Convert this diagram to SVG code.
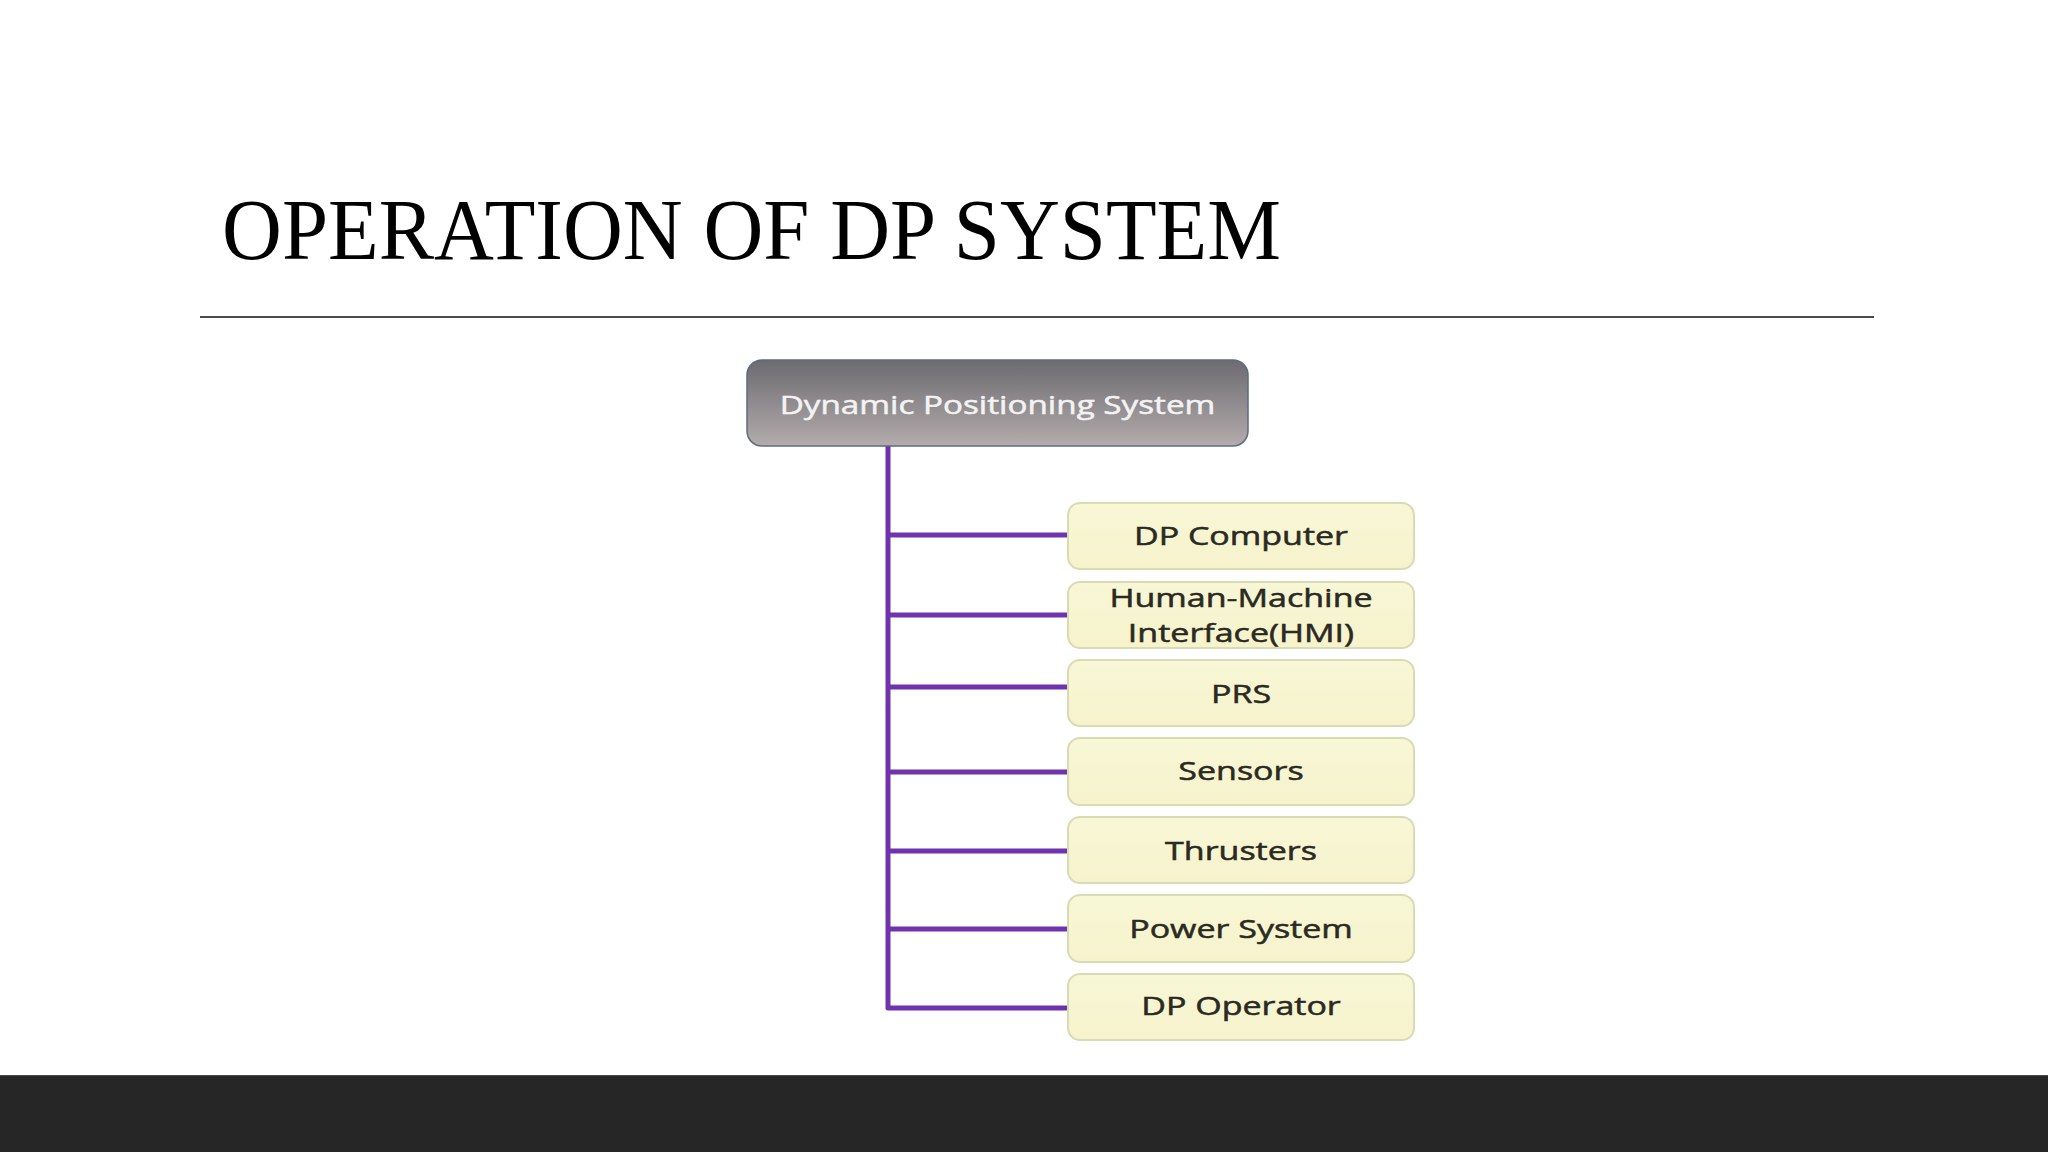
<svg xmlns="http://www.w3.org/2000/svg" width="2048" height="1152" viewBox="0 0 2048 1152">
  <defs>
    <linearGradient id="rootGrad" x1="0" y1="0" x2="0" y2="1">
      <stop offset="0" stop-color="#6c6b70"/>
      <stop offset="1" stop-color="#b3abac"/>
    </linearGradient>
    <linearGradient id="leafGrad" x1="0" y1="0" x2="0" y2="1">
      <stop offset="0" stop-color="#f8f7d6"/>
      <stop offset="1" stop-color="#f6f3cc"/>
    </linearGradient>
  </defs>
  <style>
    .title { font-family: "Liberation Serif", "Times New Roman", serif; font-size: 86px; fill: #000000; }
    .rule { stroke: #4a4a4a; stroke-width: 2; }
    .root { fill: url(#rootGrad); stroke: #5d6b80; stroke-width: 1.5; }
    .rootText { font-family: "Open Sans", "Noto Sans", sans-serif; font-size: 25px; fill: #f3f3f3; stroke: #f3f3f3; stroke-width: 0.5; text-anchor: middle; }
    .leaf { fill: url(#leafGrad); stroke: #d9dbb4; stroke-width: 2; }
    .leafText { font-family: "Open Sans", "Noto Sans", sans-serif; font-size: 25px; fill: #2b2a22; stroke: #2b2a22; stroke-width: 0.5; text-anchor: middle; }
    .conn { stroke: #7033ad; stroke-width: 5; fill: none; stroke-linecap: butt; stroke-linejoin: round; }
  </style>

  <rect x="0" y="0" width="2048" height="1152" fill="#ffffff"/>

  <text class="title" x="222" y="259" textLength="1059" lengthAdjust="spacingAndGlyphs">OPERATION OF DP SYSTEM</text>
  <line class="rule" x1="200" y1="317" x2="1874" y2="317"/>

  <g id="connectors">
    <path class="conn" d="M888 445 V1008 H1068"/>
    <line class="conn" x1="888" y1="535" x2="1068" y2="535"/>
    <line class="conn" x1="888" y1="615" x2="1068" y2="615"/>
    <line class="conn" x1="888" y1="687" x2="1068" y2="687"/>
    <line class="conn" x1="888" y1="772" x2="1068" y2="772"/>
    <line class="conn" x1="888" y1="851" x2="1068" y2="851"/>
    <line class="conn" x1="888" y1="929" x2="1068" y2="929"/>
  </g>

  <g id="node-dps">
    <rect class="root" x="747" y="360" width="501" height="86" rx="15" ry="15"/>
    <text class="rootText" transform="translate(997.5,414) scale(1.33,1)">Dynamic Positioning System</text>
  </g>

  <g id="node-dp-computer">
    <rect class="leaf" x="1068" y="503" width="346" height="66" rx="12" ry="12"/>
    <text class="leafText" transform="translate(1241,545) scale(1.36,1)">DP Computer</text>
  </g>
  <g id="node-hmi">
    <rect class="leaf" x="1068" y="582" width="346" height="66" rx="12" ry="12"/>
    <text class="leafText" transform="translate(1241,607) scale(1.36,1)">Human-Machine</text>
    <text class="leafText" transform="translate(1241,642) scale(1.36,1)">Interface(HMI)</text>
  </g>
  <g id="node-prs">
    <rect class="leaf" x="1068" y="660" width="346" height="66" rx="12" ry="12"/>
    <text class="leafText" transform="translate(1241,703) scale(1.36,1)">PRS</text>
  </g>
  <g id="node-sensors">
    <rect class="leaf" x="1068" y="738" width="346" height="67" rx="12" ry="12"/>
    <text class="leafText" transform="translate(1241,780) scale(1.36,1)">Sensors</text>
  </g>
  <g id="node-thrusters">
    <rect class="leaf" x="1068" y="817" width="346" height="66" rx="12" ry="12"/>
    <text class="leafText" transform="translate(1241,860) scale(1.36,1)">Thrusters</text>
  </g>
  <g id="node-power">
    <rect class="leaf" x="1068" y="895" width="346" height="67" rx="12" ry="12"/>
    <text class="leafText" transform="translate(1241,938) scale(1.36,1)">Power System</text>
  </g>
  <g id="node-operator">
    <rect class="leaf" x="1068" y="974" width="346" height="66" rx="12" ry="12"/>
    <text class="leafText" transform="translate(1241,1015) scale(1.36,1)">DP Operator</text>
  </g>

  <rect x="0" y="1075" width="2048" height="77" fill="#262626"/>
  <line x1="0" y1="1075.5" x2="2048" y2="1075.5" stroke="#4a4a4a" stroke-width="1"/>
</svg>
